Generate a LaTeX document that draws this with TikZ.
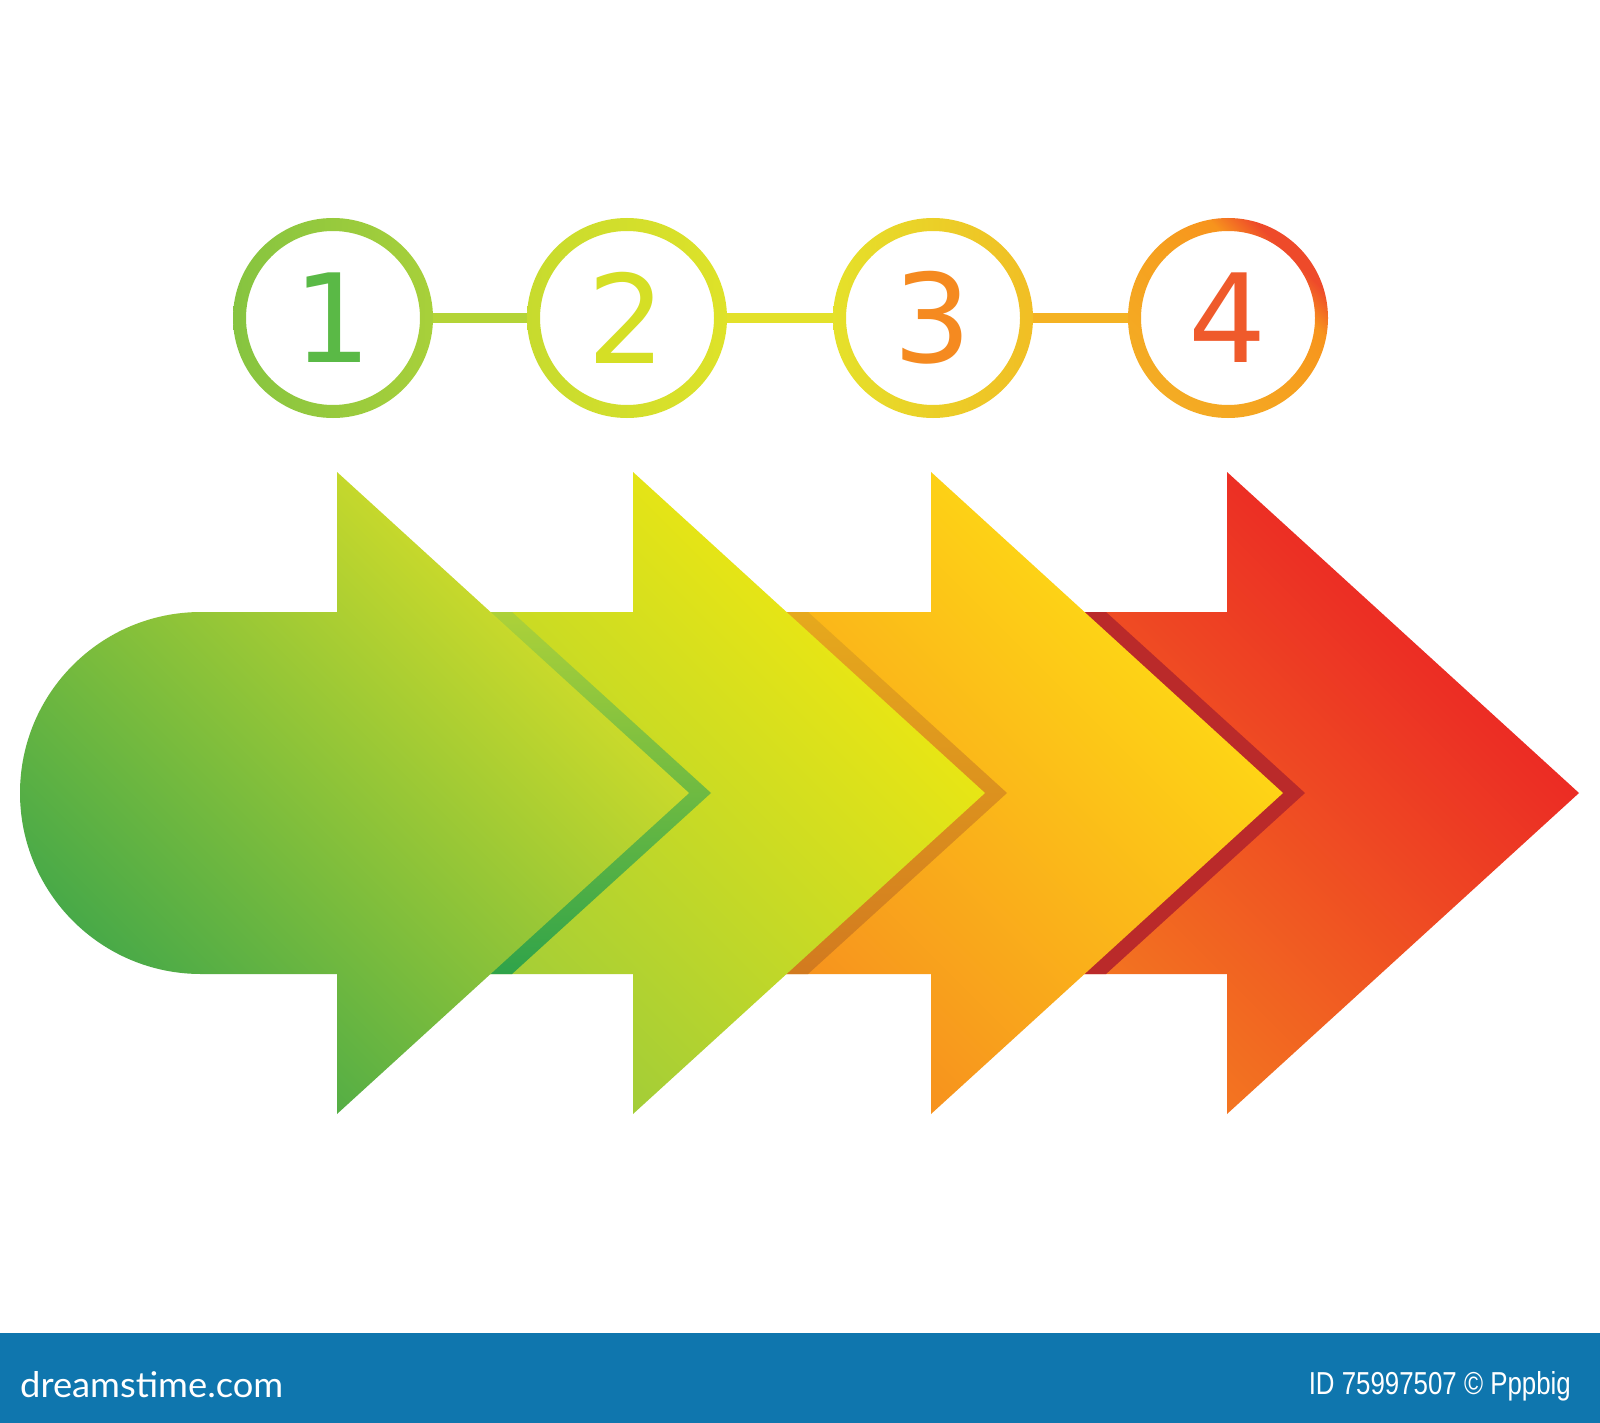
\documentclass[tikz,border=0pt]{standalone}
\usepackage{fontspec}
\usepackage{graphicx}
\setmainfont{DejaVu Sans}
\newfontfamily\digitfont{DejaVu Sans}
\newfontfamily\idfont{Liberation Sans}
\newfontfamily\logofont{Lato}
% arrow colours
\definecolor{aoneA}{HTML}{3FA64A}\definecolor{aoneB}{HTML}{8DC63F}\definecolor{aoneC}{HTML}{E0E226}
\definecolor{atwoA}{HTML}{9ACA3C}\definecolor{atwoB}{HTML}{CFDC27}\definecolor{atwoC}{HTML}{F5EA0E}
\definecolor{athrA}{HTML}{F6891F}\definecolor{athrB}{HTML}{FDB517}\definecolor{athrC}{HTML}{FFE114}
\definecolor{afouA}{HTML}{F47F20}\definecolor{afouB}{HTML}{F05A28}\definecolor{afouC}{HTML}{EA1D25}
% shadow colours
\definecolor{sonA}{HTML}{ADD139}\definecolor{sonB}{HTML}{96C93C}\definecolor{sonC}{HTML}{2FA34A}
\definecolor{stwA}{HTML}{E6A91D}\definecolor{stwB}{HTML}{E09A1E}\definecolor{stwC}{HTML}{D27A1F}
\definecolor{sthr}{HTML}{BA2A2A}
% ring colours
\definecolor{rone}{HTML}{86C440}\definecolor{roneR}{HTML}{A8D03A}
\definecolor{rtwo}{HTML}{C7DB2E}\definecolor{rtwoR}{HTML}{DEE229}
\definecolor{rthr}{HTML}{E5E12A}\definecolor{rthrR}{HTML}{F1BE25}
\definecolor{rfA}{HTML}{F4AC24}\definecolor{rfB}{HTML}{F6A01F}\definecolor{rfC}{HTML}{F7941D}\definecolor{rfD}{HTML}{EE4A2A}
\definecolor{lonetwo}{HTML}{B4D437}\definecolor{ltwothr}{HTML}{E3E12A}\definecolor{lthrfou}{HTML}{F4B223}
% digit colours
\definecolor{dgone}{HTML}{5AB946}\definecolor{dgtwo}{HTML}{D5DF25}\definecolor{dgthr}{HTML}{F58A20}\definecolor{dgfou}{HTML}{EF5A2B}
\definecolor{barblue}{HTML}{0F76AE}
\pgfdeclarehorizontalshading{ringfour}{100bp}{color(0bp)=(rfA); color(25bp)=(rfA); color(50bp)=(rfB); color(64bp)=(rfC); color(72bp)=(rfD); color(100bp)=(rfD)}
\begin{document}
\begin{tikzpicture}[x=1pt,y=-1pt,
  ringnode/.style={circle, minimum size=200pt, inner sep=0pt, outer sep=0pt,
    font={\digitfont\fontsize{123pt}{123pt}\selectfont}},
  conn/.style={line width=10pt},
  ringshade/.style={even odd rule},
  arrowshade/.style n args={3}{left color=#1, middle color=#2, right color=#3, shading angle=135}
]
\useasboundingbox (0,0) rectangle (1600,1423);
\fill[white] (0,0) rectangle (1600,1423);

% ---- arrow 4 ----
\shade[arrowshade={afouA}{afouB}{afouC}]
  (951,612) -- (1227,612) -- (1227,472) -- (1579,793) -- (1227,1114) -- (1227,974) -- (951,974) -- cycle;
% shadow of arrow 3 on arrow 4
\begin{scope}
  \clip (951,612) -- (1227,612) -- (1227,472) -- (1579,793) -- (1227,1114) -- (1227,974) -- (951,974) -- cycle;
  \fill[sthr] (675,612) -- (1106,612) -- (1305,793) -- (1106,974) -- (675,974) -- cycle;
\end{scope}
% ---- arrow 3 ----
\shade[arrowshade={athrA}{athrB}{athrC}]
  (653,612) -- (931,612) -- (931,472) -- (1283,793) -- (931,1114) -- (931,974) -- (653,974) -- cycle;
% shadow of arrow 2 on arrow 3
\begin{scope}
  \clip (653,612) -- (931,612) -- (931,472) -- (1283,793) -- (931,1114) -- (931,974) -- (653,974) -- cycle;
  \shade[top color=stwA, middle color=stwB, bottom color=stwC]
    (379,612) -- (808,612) -- (1007,793) -- (808,974) -- (379,974) -- cycle;
\end{scope}
% ---- arrow 2 ----
\shade[arrowshade={atwoA}{atwoB}{atwoC}]
  (357,612) -- (633,612) -- (633,472) -- (985,793) -- (633,1114) -- (633,974) -- (357,974) -- cycle;
% shadow of arrow 1 on arrow 2
\begin{scope}
  \clip (357,612) -- (633,612) -- (633,472) -- (985,793) -- (633,1114) -- (633,974) -- (357,974) -- cycle;
  \shade[top color=sonA, middle color=sonB, bottom color=sonC]
    (223,612) -- (512,612) -- (711,793) -- (512,974) -- (223,974) -- cycle;
\end{scope}
% ---- arrow 1 ----
\shade[arrowshade={aoneA}{aoneB}{aoneC}]
  (201,612) -- (337,612) -- (337,472) -- (689,793) -- (337,1114) -- (337,974) -- (201,974)
  arc[start angle=90, end angle=270, radius=181] -- cycle;

% ---- numbered circles ----
\node[ringnode, text=dgone] (k1) at (333,318) {1};
\node[ringnode, text=dgtwo] (k2) at (627,318) {2};
\node[ringnode, text=dgthr] (k3) at (933,318) {3};
\node[ringnode, text=dgfou] (k4) at (1228,318) {4};

\shade[ringshade, left color=rone, right color=roneR] (k1.center) circle[radius=100] (k1.center) circle[radius=87];
\shade[ringshade, left color=rtwo, right color=rtwoR] (k2.center) circle[radius=100] (k2.center) circle[radius=87];
\shade[ringshade, left color=rthr, right color=rthrR] (k3.center) circle[radius=100] (k3.center) circle[radius=87];
\shade[ringshade, shading=ringfour, shading angle=45] (k4.center) circle[radius=100] (k4.center) circle[radius=87];

\draw[conn, lonetwo] (k1) -- (k2);
\draw[conn, ltwothr] (k2) -- (k3);
\draw[conn, lthrfou] (k3) -- (k4);

% ---- bottom bar ----
\fill[barblue] (0,1333) rectangle (1600,1423);
\node[anchor=base west, inner sep=0pt, text=white] (logo) at (20,1397)
  {\resizebox{263pt}{26pt}{\logofont dreamstime.com}};
\node[anchor=base east, inner sep=0pt, text=white] (credit) at (1571,1394)
  {\resizebox{262pt}{23pt}{\idfont ID 75997507 © Pppbig}};
\end{tikzpicture}
\end{document}
